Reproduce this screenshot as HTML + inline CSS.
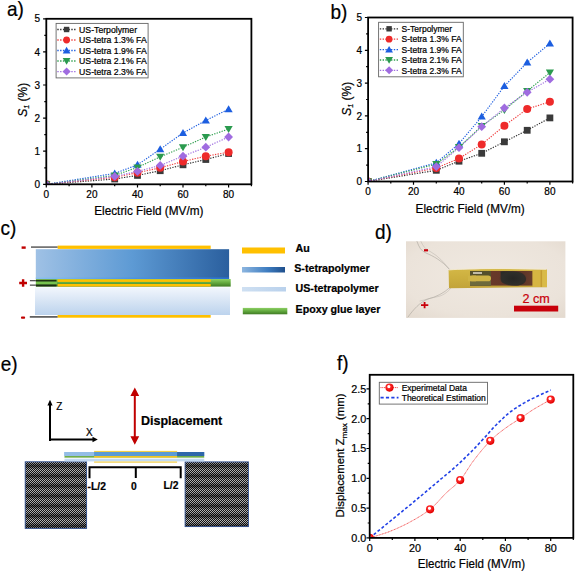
<!DOCTYPE html>
<html><head><meta charset="utf-8"><style>
html,body{margin:0;padding:0;background:#fff;}
svg{display:block;}
text{font-family:"Liberation Sans",sans-serif;stroke:currentColor;stroke-width:0.22px;}
</style></head><body>
<svg width="575" height="572" viewBox="0 0 575 572">
<rect width="575" height="572" fill="#fff"/>

<g font-size="20" font-family="Liberation Sans" style="stroke-width:0">
<text transform="translate(6.9,16) scale(0.95,1)">a)</text>
<text transform="translate(330.5,18.8) scale(0.95,1)">b)</text>
<text transform="translate(0.4,235) scale(0.95,1)">c)</text>
<text transform="translate(374.9,238.9) scale(0.95,1)">d)</text>
<text transform="translate(0.8,370.5) scale(0.95,1)">e)</text>
<text transform="translate(337,370.2) scale(0.95,1)">f)</text>
</g>

<g id="pa"><clipPath id="clip46"><rect x="46.3" y="18.8" width="205.1" height="165.5"/></clipPath>
<g clip-path="url(#clip46)">
<path d="M46.3,184.3 L114.7,179.0 L137.5,175.4 L160.2,170.7 L183.0,164.8 L205.8,159.5 L228.6,153.5" fill="none" stroke="#333" stroke-width="1.15" stroke-dasharray="1.3,1.3"/>
<path d="M46.3,184.3 L114.7,177.3 L137.5,172.7 L160.2,167.8 L183.0,161.5 L205.8,156.2 L228.6,152.2" fill="none" stroke="#f04040" stroke-width="1.15" stroke-dasharray="1.3,1.3"/>
<path d="M46.3,184.3 L114.7,173.4 L137.5,164.8 L160.2,149.2 L183.0,133.0 L205.8,120.4 L228.6,109.2" fill="none" stroke="#2060e0" stroke-width="1.15" stroke-dasharray="1.3,1.3"/>
<path d="M46.3,184.3 L114.7,175.4 L137.5,167.4 L160.2,156.8 L183.0,147.2 L205.8,137.0 L228.6,129.0" fill="none" stroke="#30a050" stroke-width="1.15" stroke-dasharray="1.3,1.3"/>
<path d="M46.3,184.3 L114.7,176.4 L137.5,171.4 L160.2,165.4 L183.0,156.2 L205.8,147.2 L228.6,137.0" fill="none" stroke="#a070e0" stroke-width="1.15" stroke-dasharray="1.3,1.3"/>
<rect x="42.9" y="180.9" width="6.8" height="6.8" fill="#3a3a3a"/>
<rect x="111.3" y="175.6" width="6.8" height="6.8" fill="#3a3a3a"/>
<rect x="134.1" y="172.0" width="6.8" height="6.8" fill="#3a3a3a"/>
<rect x="156.8" y="167.3" width="6.8" height="6.8" fill="#3a3a3a"/>
<rect x="179.6" y="161.4" width="6.8" height="6.8" fill="#3a3a3a"/>
<rect x="202.4" y="156.1" width="6.8" height="6.8" fill="#3a3a3a"/>
<rect x="225.2" y="150.1" width="6.8" height="6.8" fill="#3a3a3a"/>
<circle cx="46.3" cy="184.3" r="4.0" fill="#ee2a2a"/>
<circle cx="114.7" cy="177.3" r="4.0" fill="#ee2a2a"/>
<circle cx="137.5" cy="172.7" r="4.0" fill="#ee2a2a"/>
<circle cx="160.2" cy="167.8" r="4.0" fill="#ee2a2a"/>
<circle cx="183.0" cy="161.5" r="4.0" fill="#ee2a2a"/>
<circle cx="205.8" cy="156.2" r="4.0" fill="#ee2a2a"/>
<circle cx="228.6" cy="152.2" r="4.0" fill="#ee2a2a"/>
<path d="M46.3,180.3 L50.4,187.3 L42.2,187.3Z" fill="#1c5ee0"/>
<path d="M114.7,169.4 L118.8,176.4 L110.6,176.4Z" fill="#1c5ee0"/>
<path d="M137.5,160.8 L141.6,167.8 L133.4,167.8Z" fill="#1c5ee0"/>
<path d="M160.2,145.2 L164.3,152.2 L156.1,152.2Z" fill="#1c5ee0"/>
<path d="M183.0,129.0 L187.1,136.0 L178.9,136.0Z" fill="#1c5ee0"/>
<path d="M205.8,116.4 L209.9,123.4 L201.7,123.4Z" fill="#1c5ee0"/>
<path d="M228.6,105.2 L232.7,112.2 L224.5,112.2Z" fill="#1c5ee0"/>
<path d="M46.3,188.3 L50.4,181.3 L42.2,181.3Z" fill="#2a9a4e"/>
<path d="M114.7,179.4 L118.8,172.4 L110.6,172.4Z" fill="#2a9a4e"/>
<path d="M137.5,171.4 L141.6,164.4 L133.4,164.4Z" fill="#2a9a4e"/>
<path d="M160.2,160.8 L164.3,153.8 L156.1,153.8Z" fill="#2a9a4e"/>
<path d="M183.0,151.2 L187.1,144.2 L178.9,144.2Z" fill="#2a9a4e"/>
<path d="M205.8,141.0 L209.9,134.0 L201.7,134.0Z" fill="#2a9a4e"/>
<path d="M228.6,133.0 L232.7,126.0 L224.5,126.0Z" fill="#2a9a4e"/>
<path d="M46.3,179.9 L50.7,184.3 L46.3,188.7 L41.9,184.3Z" fill="#a06ce0"/>
<path d="M114.7,172.0 L119.1,176.4 L114.7,180.8 L110.3,176.4Z" fill="#a06ce0"/>
<path d="M137.5,167.0 L141.9,171.4 L137.5,175.8 L133.1,171.4Z" fill="#a06ce0"/>
<path d="M160.2,161.0 L164.6,165.4 L160.2,169.8 L155.8,165.4Z" fill="#a06ce0"/>
<path d="M183.0,151.8 L187.4,156.2 L183.0,160.6 L178.6,156.2Z" fill="#a06ce0"/>
<path d="M205.8,142.8 L210.2,147.2 L205.8,151.6 L201.4,147.2Z" fill="#a06ce0"/>
<path d="M228.6,132.6 L233.0,137.0 L228.6,141.4 L224.2,137.0Z" fill="#a06ce0"/>
</g>
<rect x="46.3" y="18.8" width="205.1" height="165.5" fill="none" stroke="#000" stroke-width="1.8"/>
<path d="M46.3,184.3 v3.2 M69.1,184.3 v2.0 M91.9,184.3 v3.2 M114.7,184.3 v2.0 M137.5,184.3 v3.2 M160.2,184.3 v2.0 M183.0,184.3 v3.2 M205.8,184.3 v2.0 M228.6,184.3 v3.2 M251.4,184.3 v2.0 M46.3,184.3 h-3.2 M46.3,167.8 h-2.0 M46.3,151.2 h-3.2 M46.3,134.7 h-2.0 M46.3,118.1 h-3.2 M46.3,101.6 h-2.0 M46.3,85.0 h-3.2 M46.3,68.5 h-2.0 M46.3,51.9 h-3.2 M46.3,35.3 h-2.0 M46.3,18.8 h-3.2" stroke="#000" stroke-width="1.2" fill="none"/>
<text x="46.3" y="197.5" font-size="10" text-anchor="middle" font-family="Liberation Sans">0</text>
<text x="91.9" y="197.5" font-size="10" text-anchor="middle" font-family="Liberation Sans">20</text>
<text x="137.5" y="197.5" font-size="10" text-anchor="middle" font-family="Liberation Sans">40</text>
<text x="183.0" y="197.5" font-size="10" text-anchor="middle" font-family="Liberation Sans">60</text>
<text x="228.6" y="197.5" font-size="10" text-anchor="middle" font-family="Liberation Sans">80</text>
<text x="40.1" y="187.9" font-size="10" text-anchor="end" font-family="Liberation Sans">0</text>
<text x="40.1" y="154.8" font-size="10" text-anchor="end" font-family="Liberation Sans">1</text>
<text x="40.1" y="121.7" font-size="10" text-anchor="end" font-family="Liberation Sans">2</text>
<text x="40.1" y="88.6" font-size="10" text-anchor="end" font-family="Liberation Sans">3</text>
<text x="40.1" y="55.5" font-size="10" text-anchor="end" font-family="Liberation Sans">4</text>
<text x="40.1" y="22.4" font-size="10" text-anchor="end" font-family="Liberation Sans">5</text>
<text transform="translate(148.8,215) scale(0.95,1)" font-size="12.4" text-anchor="middle" font-family="Liberation Sans">Electric Field (MV/m)</text>
<text transform="translate(27.3,99.8) rotate(-90)" font-size="12" text-anchor="middle" font-family="Liberation Sans"><tspan font-style="italic">S</tspan><tspan font-size="7" dy="2" font-style="italic">1</tspan><tspan dy="-2"> (%)</tspan></text>
<rect x="56.1" y="23.4" width="92.0" height="54.5" fill="#fff" stroke="#666" stroke-width="0.9"/>
<path d="M57.300000000000004,29.5 H76.1" stroke="#333" stroke-width="1.3" stroke-dasharray="1.4,1.4"/>
<rect x="63.9" y="26.8" width="5.4" height="5.4" fill="#3a3a3a"/>
<text x="79.1" y="32.7" font-size="8.7" font-family="Liberation Sans">US-Terpolymer</text>
<path d="M57.300000000000004,40.0 H76.1" stroke="#f04040" stroke-width="1.3" stroke-dasharray="1.4,1.4"/>
<circle cx="66.6" cy="40.0" r="3.4" fill="#ee2a2a"/>
<text x="79.1" y="43.2" font-size="8.7" font-family="Liberation Sans">US-tetra 1.3% FA</text>
<path d="M57.300000000000004,50.5 H76.1" stroke="#2060e0" stroke-width="1.3" stroke-dasharray="1.4,1.4"/>
<path d="M66.6,46.7 L70.5,53.4 L62.7,53.4Z" fill="#1c5ee0"/>
<text x="79.1" y="53.7" font-size="8.7" font-family="Liberation Sans">US-tetra 1.9% FA</text>
<path d="M57.300000000000004,61.0 H76.1" stroke="#30a050" stroke-width="1.3" stroke-dasharray="1.4,1.4"/>
<path d="M66.6,64.8 L70.5,58.1 L62.7,58.1Z" fill="#2a9a4e"/>
<text x="79.1" y="64.2" font-size="8.7" font-family="Liberation Sans">US-tetra 2.1% FA</text>
<path d="M57.300000000000004,71.6 H76.1" stroke="#a070e0" stroke-width="1.3" stroke-dasharray="1.4,1.4"/>
<path d="M66.6,67.6 L70.6,71.6 L66.6,75.6 L62.6,71.6Z" fill="#a06ce0"/>
<text x="79.1" y="74.8" font-size="8.7" font-family="Liberation Sans">US-tetra 2.3% FA</text></g>
<g id="pb"><clipPath id="clip368"><rect x="368.1" y="17.5" width="204.5" height="164.0"/></clipPath>
<g clip-path="url(#clip368)">
<path d="M368.1,181.5 L436.3,170.3 L459.0,161.2 L481.7,153.3 L504.4,141.8 L527.2,130.3 L549.9,117.9" fill="none" stroke="#333" stroke-width="1.15" stroke-dasharray="1.3,1.3"/>
<path d="M368.1,181.5 L436.3,168.1 L459.0,158.5 L481.7,144.4 L504.4,125.7 L527.2,109.0 L549.9,101.8" fill="none" stroke="#f04040" stroke-width="1.15" stroke-dasharray="1.3,1.3"/>
<path d="M368.1,181.5 L436.3,162.8 L459.0,143.8 L481.7,116.6 L504.4,86.1 L527.2,62.4 L549.9,43.4" fill="none" stroke="#2060e0" stroke-width="1.15" stroke-dasharray="1.3,1.3"/>
<path d="M368.1,181.5 L436.3,164.1 L459.0,147.1 L481.7,126.1 L504.4,110.0 L527.2,91.0 L549.9,72.6" fill="none" stroke="#30a050" stroke-width="1.15" stroke-dasharray="1.3,1.3"/>
<path d="M368.1,181.5 L436.3,166.7 L459.0,147.7 L481.7,126.7 L504.4,108.0 L527.2,92.3 L549.9,79.2" fill="none" stroke="#a070e0" stroke-width="1.15" stroke-dasharray="1.3,1.3"/>
<rect x="364.7" y="178.1" width="6.8" height="6.8" fill="#3a3a3a"/>
<rect x="432.9" y="166.9" width="6.8" height="6.8" fill="#3a3a3a"/>
<rect x="455.6" y="157.8" width="6.8" height="6.8" fill="#3a3a3a"/>
<rect x="478.3" y="149.9" width="6.8" height="6.8" fill="#3a3a3a"/>
<rect x="501.0" y="138.4" width="6.8" height="6.8" fill="#3a3a3a"/>
<rect x="523.8" y="126.9" width="6.8" height="6.8" fill="#3a3a3a"/>
<rect x="546.5" y="114.5" width="6.8" height="6.8" fill="#3a3a3a"/>
<circle cx="368.1" cy="181.5" r="4.0" fill="#ee2a2a"/>
<circle cx="436.3" cy="168.1" r="4.0" fill="#ee2a2a"/>
<circle cx="459.0" cy="158.5" r="4.0" fill="#ee2a2a"/>
<circle cx="481.7" cy="144.4" r="4.0" fill="#ee2a2a"/>
<circle cx="504.4" cy="125.7" r="4.0" fill="#ee2a2a"/>
<circle cx="527.2" cy="109.0" r="4.0" fill="#ee2a2a"/>
<circle cx="549.9" cy="101.8" r="4.0" fill="#ee2a2a"/>
<path d="M368.1,177.5 L372.2,184.5 L364.0,184.5Z" fill="#1c5ee0"/>
<path d="M436.3,158.8 L440.4,165.8 L432.2,165.8Z" fill="#1c5ee0"/>
<path d="M459.0,139.8 L463.1,146.8 L454.9,146.8Z" fill="#1c5ee0"/>
<path d="M481.7,112.6 L485.8,119.6 L477.6,119.6Z" fill="#1c5ee0"/>
<path d="M504.4,82.1 L508.5,89.1 L500.3,89.1Z" fill="#1c5ee0"/>
<path d="M527.2,58.4 L531.3,65.4 L523.1,65.4Z" fill="#1c5ee0"/>
<path d="M549.9,39.4 L554.0,46.4 L545.8,46.4Z" fill="#1c5ee0"/>
<path d="M368.1,185.5 L372.2,178.5 L364.0,178.5Z" fill="#2a9a4e"/>
<path d="M436.3,168.1 L440.4,161.1 L432.2,161.1Z" fill="#2a9a4e"/>
<path d="M459.0,151.1 L463.1,144.1 L454.9,144.1Z" fill="#2a9a4e"/>
<path d="M481.7,130.1 L485.8,123.1 L477.6,123.1Z" fill="#2a9a4e"/>
<path d="M504.4,114.0 L508.5,107.0 L500.3,107.0Z" fill="#2a9a4e"/>
<path d="M527.2,95.0 L531.3,88.0 L523.1,88.0Z" fill="#2a9a4e"/>
<path d="M549.9,76.6 L554.0,69.6 L545.8,69.6Z" fill="#2a9a4e"/>
<path d="M368.1,177.1 L372.5,181.5 L368.1,185.9 L363.7,181.5Z" fill="#a06ce0"/>
<path d="M436.3,162.3 L440.7,166.7 L436.3,171.1 L431.9,166.7Z" fill="#a06ce0"/>
<path d="M459.0,143.3 L463.4,147.7 L459.0,152.1 L454.6,147.7Z" fill="#a06ce0"/>
<path d="M481.7,122.3 L486.1,126.7 L481.7,131.1 L477.3,126.7Z" fill="#a06ce0"/>
<path d="M504.4,103.6 L508.8,108.0 L504.4,112.4 L500.0,108.0Z" fill="#a06ce0"/>
<path d="M527.2,87.9 L531.6,92.3 L527.2,96.7 L522.8,92.3Z" fill="#a06ce0"/>
<path d="M549.9,74.8 L554.3,79.2 L549.9,83.6 L545.5,79.2Z" fill="#a06ce0"/>
</g>
<rect x="368.1" y="17.5" width="204.5" height="164.0" fill="none" stroke="#000" stroke-width="1.8"/>
<path d="M368.1,181.5 v3.2 M390.8,181.5 v2.0 M413.5,181.5 v3.2 M436.3,181.5 v2.0 M459.0,181.5 v3.2 M481.7,181.5 v2.0 M504.4,181.5 v3.2 M527.2,181.5 v2.0 M549.9,181.5 v3.2 M572.6,181.5 v2.0 M368.1,181.5 h-3.2 M368.1,165.1 h-2.0 M368.1,148.7 h-3.2 M368.1,132.3 h-2.0 M368.1,115.9 h-3.2 M368.1,99.5 h-2.0 M368.1,83.1 h-3.2 M368.1,66.7 h-2.0 M368.1,50.3 h-3.2 M368.1,33.9 h-2.0 M368.1,17.5 h-3.2" stroke="#000" stroke-width="1.2" fill="none"/>
<text x="368.1" y="194.8" font-size="10" text-anchor="middle" font-family="Liberation Sans">0</text>
<text x="413.5" y="194.8" font-size="10" text-anchor="middle" font-family="Liberation Sans">20</text>
<text x="459.0" y="194.8" font-size="10" text-anchor="middle" font-family="Liberation Sans">40</text>
<text x="504.4" y="194.8" font-size="10" text-anchor="middle" font-family="Liberation Sans">60</text>
<text x="549.9" y="194.8" font-size="10" text-anchor="middle" font-family="Liberation Sans">80</text>
<text x="362.0" y="185.1" font-size="10" text-anchor="end" font-family="Liberation Sans">0</text>
<text x="362.0" y="152.3" font-size="10" text-anchor="end" font-family="Liberation Sans">1</text>
<text x="362.0" y="119.5" font-size="10" text-anchor="end" font-family="Liberation Sans">2</text>
<text x="362.0" y="86.7" font-size="10" text-anchor="end" font-family="Liberation Sans">3</text>
<text x="362.0" y="53.9" font-size="10" text-anchor="end" font-family="Liberation Sans">4</text>
<text x="362.0" y="21.1" font-size="10" text-anchor="end" font-family="Liberation Sans">5</text>
<text transform="translate(470.2,212.8) scale(0.95,1)" font-size="12.4" text-anchor="middle" font-family="Liberation Sans">Electric Field (MV/m)</text>
<text transform="translate(350.8,98.8) rotate(-90)" font-size="12" text-anchor="middle" font-family="Liberation Sans"><tspan font-style="italic">S</tspan><tspan font-size="7" dy="2" font-style="italic">1</tspan><tspan dy="-2"> (%)</tspan></text>
<rect x="378.6" y="22.3" width="84.7" height="54.5" fill="#fff" stroke="#666" stroke-width="0.9"/>
<path d="M379.8,28.8 H398.6" stroke="#333" stroke-width="1.3" stroke-dasharray="1.4,1.4"/>
<rect x="386.4" y="26.1" width="5.4" height="5.4" fill="#3a3a3a"/>
<text x="401.6" y="32.0" font-size="8.5" font-family="Liberation Sans">S-Terpolymer</text>
<path d="M379.8,39.2 H398.6" stroke="#f04040" stroke-width="1.3" stroke-dasharray="1.4,1.4"/>
<circle cx="389.1" cy="39.2" r="3.4" fill="#ee2a2a"/>
<text x="401.6" y="42.4" font-size="8.5" font-family="Liberation Sans">S-tetra 1.3% FA</text>
<path d="M379.8,49.7 H398.6" stroke="#2060e0" stroke-width="1.3" stroke-dasharray="1.4,1.4"/>
<path d="M389.1,45.9 L393.0,52.6 L385.2,52.6Z" fill="#1c5ee0"/>
<text x="401.6" y="52.9" font-size="8.5" font-family="Liberation Sans">S-tetra 1.9% FA</text>
<path d="M379.8,60.0 H398.6" stroke="#30a050" stroke-width="1.3" stroke-dasharray="1.4,1.4"/>
<path d="M389.1,63.8 L393.0,57.1 L385.2,57.1Z" fill="#2a9a4e"/>
<text x="401.6" y="63.2" font-size="8.5" font-family="Liberation Sans">S-tetra 2.1% FA</text>
<path d="M379.8,70.3 H398.6" stroke="#a070e0" stroke-width="1.3" stroke-dasharray="1.4,1.4"/>
<path d="M389.1,66.3 L393.1,70.3 L389.1,74.3 L385.1,70.3Z" fill="#a06ce0"/>
<text x="401.6" y="73.5" font-size="8.5" font-family="Liberation Sans">S-tetra 2.3% FA</text></g>
<g id="pc">
<defs>
 <linearGradient id="gS" x1="0" x2="1" y1="0" y2="0">
  <stop offset="0" stop-color="#9fc1e5"/><stop offset="0.5" stop-color="#5d9ad4"/><stop offset="1" stop-color="#2a5f9e"/>
 </linearGradient>
 <linearGradient id="gSb" x1="0" x2="1" y1="0" y2="0">
  <stop offset="0" stop-color="#8cc0f0"/><stop offset="0.5" stop-color="#4a94e4"/><stop offset="1" stop-color="#2a70d0"/>
 </linearGradient>
 <linearGradient id="gU" x1="0" x2="0" y1="0" y2="1">
  <stop offset="0" stop-color="#f2f6fc"/><stop offset="1" stop-color="#bcd3ed"/>
 </linearGradient>
 <linearGradient id="gSl" x1="0" x2="1" y1="0" y2="0">
  <stop offset="0" stop-color="#8db6e0"/><stop offset="0.6" stop-color="#3d7cc0"/><stop offset="1" stop-color="#1f4f8c"/>
 </linearGradient>
 <linearGradient id="gUl" x1="0" x2="1" y1="0" y2="0">
  <stop offset="0" stop-color="#cfe0f2"/><stop offset="1" stop-color="#b9d1ec"/>
 </linearGradient>
 <linearGradient id="gG" x1="0" x2="0" y1="0" y2="1">
  <stop offset="0" stop-color="#8ccf64"/><stop offset="0.5" stop-color="#62a93e"/><stop offset="1" stop-color="#3f7a24"/>
 </linearGradient>
</defs>
<rect x="35.8" y="249.2" width="193.3" height="29.6" fill="url(#gS)"/>
<rect x="35.8" y="277.5" width="193.3" height="1.5" fill="url(#gSb)"/>
<rect x="35.0" y="287.4" width="195.0" height="27.6" fill="url(#gU)"/>
<rect x="35.9" y="279.0" width="194.8" height="7.6" fill="url(#gG)"/>
<rect x="57.6" y="279.4" width="153.1" height="2.5" fill="#ffc000"/>
<rect x="57.6" y="284.0" width="153.1" height="2.5" fill="#ffc000"/>
<rect x="57.6" y="245.6" width="153.1" height="3.3" fill="#ffc000"/>
<rect x="57.6" y="315.0" width="153.1" height="2.7" fill="#ffc000"/>
<rect x="35.9" y="281.4" width="21" height="3.1" fill="#76c24e"/>
<rect x="35.9" y="279.8" width="20.6" height="1.7" fill="#1e3214"/>
<rect x="35.9" y="284.5" width="20.6" height="1.9" fill="#1a2c12"/>
<rect x="29.9" y="280.0" width="6" height="1.3" fill="#555"/>
<rect x="29.9" y="284.5" width="6" height="1.3" fill="#555"/>
<rect x="31.0" y="246.3" width="26.6" height="1.6" fill="#666"/>
<rect x="29.8" y="316.1" width="27.8" height="1.6" fill="#505050"/>
<rect x="21.6" y="246.4" width="4.1" height="2.4" fill="#c00000"/>
<rect x="21.0" y="316.4" width="4.1" height="2.3" rx="0.8" fill="#c00000"/>
<path d="M23.1,279.2 V286.7 M19.2,283 H27" stroke="#c00000" stroke-width="2.4"/>
<rect x="242" y="247.5" width="43" height="6" fill="#ffc000"/>
<rect x="242" y="267.0" width="43" height="5.5" fill="url(#gSl)"/>
<rect x="242" y="287.0" width="44" height="4.5" fill="url(#gUl)"/>
<rect x="242.8" y="307.9" width="44.5" height="6.4" fill="url(#gG)"/>
<g font-size="10.7" font-weight="bold" font-family="Liberation Sans">
<text x="295.5" y="252.4">Au</text>
<text x="294.2" y="271.7">S-tetrapolymer</text>
<text x="295.5" y="292">US-tetrapolymer</text>
<text x="295.5" y="313">Epoxy glue layer</text>
</g>
</g>
<g id="pd">
<defs>
 <radialGradient id="gBg" cx="0.5" cy="0.45" r="0.75">
  <stop offset="0" stop-color="#f0e9e1"/><stop offset="0.7" stop-color="#ebe3da"/><stop offset="1" stop-color="#e3d9ce"/>
 </radialGradient>
 <linearGradient id="gDev" x1="0" x2="0" y1="0" y2="1">
  <stop offset="0" stop-color="#d3b746"/><stop offset="0.5" stop-color="#cbae3e"/><stop offset="1" stop-color="#c2a33a"/>
 </linearGradient>
 <linearGradient id="gIn" x1="0" x2="1" y1="0" y2="0">
  <stop offset="0" stop-color="#74402c"/><stop offset="0.25" stop-color="#6a3a2a"/><stop offset="0.85" stop-color="#5e3628"/><stop offset="1" stop-color="#6a3e2c"/>
 </linearGradient>
 <radialGradient id="gBlot" cx="0.5" cy="0.5" r="0.5">
  <stop offset="0" stop-color="#262624"/><stop offset="0.7" stop-color="#2e2e2a"/><stop offset="1" stop-color="#3a3029" stop-opacity="0"/>
 </radialGradient>
</defs>
<rect x="406" y="241.3" width="159.4" height="76.6" fill="url(#gBg)"/>
<g fill="none" stroke-linecap="round">
<path d="M417,241.5 C419,247 421,251 426,253 C433,256 441,260 449.5,269.3" stroke="#a9a49c" stroke-width="0.6"/>
<path d="M421,241.5 C423,246 425,249 431,252 C438,256 444,262 449.5,269.6" stroke="#b8b3ab" stroke-width="0.5"/>
<path d="M449.5,287.8 C444,293 436,297 428,299 C420,302 413,310 408,317" stroke="#a9a49c" stroke-width="0.6"/>
<path d="M451,288 C447,293 442,296 436,297 C430,298 425,300 420,301" stroke="#b8b3ab" stroke-width="0.5"/>
</g>
<path d="M448.6,270 C470,268.6 510,268.8 547,269.6 L547,287.2 L532,287.2 L449,288.3 Z" fill="url(#gDev)"/>
<path d="M449,269.9 C470,268.2 510,268.3 546,269.2" stroke="#f3ead0" stroke-width="0.9" fill="none"/>
<rect x="470" y="271" width="62.6" height="14.6" fill="url(#gIn)"/>
<rect x="470" y="271" width="21" height="14.6" fill="#55502c"/>
<rect x="470" y="281" width="21" height="4.6" fill="#6d6a3c"/>
<path d="M500.5,271.5 C506,271 512,271.2 518,272 C523,273 526,276 526,279 C526,283 522,285.5 516,285.5 C511,285.5 507,285 503,283 C500,281 501,277 500.5,271.5 Z" fill="#2b2b28"/>
<ellipse cx="513" cy="278.4" rx="14" ry="8" fill="url(#gBlot)"/>
<rect x="470" y="275.6" width="21" height="5.7" rx="2.85" fill="#cfb446"/>
<rect x="468" y="275.6" width="8" height="5.7" fill="#cfb446"/>
<rect x="473" y="272.2" width="9" height="1.6" fill="#ddd6c4"/>
<rect x="532.6" y="270.2" width="14.4" height="16.8" fill="#d6b542"/>
<rect x="540.6" y="270.2" width="1.6" height="16.8" fill="#c49c32"/>
<rect x="542.2" y="270.2" width="4.8" height="16.8" fill="#d9ba48"/>
<rect x="424" y="249.2" width="4" height="2.2" fill="#c8000a"/>
<path d="M424.6,302 V308.2 M421,305.1 H428.3" stroke="#c8000a" stroke-width="1.8"/>
<text x="522.4" y="302.7" font-size="12.6" fill="#c8000a" style="stroke:#c8000a" font-family="Liberation Sans">2 cm</text>
<rect x="514" y="305.7" width="44.2" height="5.8" fill="#c8000a"/>
</g>
<g id="pe">
<defs>
 <pattern id="chk" width="2" height="2" patternUnits="userSpaceOnUse">
  <rect width="2" height="2" fill="#111"/>
  <rect width="1" height="1" fill="#b8b8b8"/>
  <rect x="1" y="1" width="1" height="1" fill="#b8b8b8"/>
 </pattern>
 <linearGradient id="bandg" x1="0" x2="0" y1="0" y2="1">
  <stop offset="0" stop-color="#000" stop-opacity="0"/>
  <stop offset="0.25" stop-color="#000" stop-opacity="0.05"/>
  <stop offset="0.6" stop-color="#000" stop-opacity="0.6"/>
  <stop offset="0.9" stop-color="#000" stop-opacity="0.1"/>
  <stop offset="1" stop-color="#000" stop-opacity="0"/>
 </linearGradient>
 <pattern id="band" width="4" height="10" patternUnits="userSpaceOnUse">
  <rect width="4" height="10" fill="url(#bandg)"/>
 </pattern>
</defs>
<rect x="25.2" y="461.8" width="61.4" height="66.6" fill="url(#chk)"/>
<rect x="25.2" y="461.8" width="61.4" height="66.6" fill="url(#band)" stroke="#2f4f8f" stroke-width="0.9"/>
<rect x="185.1" y="461.9" width="63.3" height="64.7" fill="url(#chk)"/>
<rect x="185.1" y="461.9" width="63.3" height="64.7" fill="url(#band)" stroke="#2f4f8f" stroke-width="0.9"/>
<rect x="64.5" y="452" width="139.7" height="4" fill="#5b9bd5"/>
<rect x="64.5" y="452" width="29.6" height="4" fill="#93bde6"/>
<rect x="177.1" y="452" width="27.1" height="4" fill="#2e67aa"/>
<rect x="64.5" y="456" width="139.7" height="1.8" fill="#70ad47"/>
<rect x="94.1" y="456" width="83" height="1.8" fill="#f2c520"/>
<rect x="64.5" y="457.8" width="139.7" height="1.2" fill="#eef4fb"/>
<rect x="64.5" y="459" width="139.7" height="2.4" fill="#c2daf2"/>
<rect x="94.1" y="450.9" width="83" height="1.1" fill="#f4cf48"/>
<rect x="94.1" y="461.5" width="83" height="1.2" fill="#f4cf48"/>
<path d="M50,441 V405 M49,439.5 H94" stroke="#000" stroke-width="2"/>
<path d="M50,399.7 L52.6,405.5 L47.4,405.5Z M97.8,439.5 L92.5,436.8 L92.5,442.2Z" fill="#000"/>
<text x="56.2" y="409.5" font-size="10" font-family="Liberation Sans">Z</text>
<text x="86.1" y="436.1" font-size="10" font-family="Liberation Sans">X</text>
<path d="M134.8,394 V438" stroke="#c00000" stroke-width="2"/>
<path d="M134.8,387.6 L139.2,396.1 L130.4,396.1Z M134.8,444.8 L139.2,436.3 L130.4,436.3Z" fill="#c00000"/>
<text x="141" y="424.6" font-size="12.5" font-weight="bold" font-family="Liberation Sans">Displacement</text>
<path d="M89.5,478.3 V467.3 H180.7 V478.3 M135.8,467.3 V478" stroke="#000" stroke-width="2" fill="none"/>
<g font-size="10.3" font-weight="bold" font-family="Liberation Sans">
<text x="87.6" y="489.6">-L/2</text>
<text x="131" y="489.6">0</text>
<text x="163.5" y="489.4">L/2</text>
</g>
</g>
<g id="pf"><clipPath id="clipf"><rect x="369.7" y="374.8" width="203.6" height="163.1"/></clipPath><g clip-path="url(#clipf)">
<path d="M369.7,537.9 L371.3,537.4 L373.4,536.8 L375.8,536.1 L378.6,535.2 L381.5,534.3 L384.5,533.3 L387.4,532.4 L390.1,531.3 L392.6,530.3 L395.2,529.2 L397.7,528.1 L400.3,526.9 L402.8,525.7 L405.4,524.5 L407.9,523.2 L410.4,521.8 L412.9,520.4 L415.5,519.0 L418.0,517.5 L420.5,516.0 L423.0,514.4 L425.5,512.7 L427.8,511.0 L430.1,509.3 L432.3,507.4 L434.4,505.5 L436.4,503.4 L438.4,501.3 L440.3,499.2 L442.2,497.1 L444.1,495.1 L445.9,493.2 L447.8,491.5 L449.6,489.9 L451.4,488.4 L453.2,486.9 L455.0,485.4 L456.7,483.8 L458.5,482.0 L460.2,480.1 L461.9,477.9 L463.6,475.6 L465.2,473.2 L466.8,470.7 L468.5,468.1 L470.2,465.5 L471.9,462.9 L473.8,460.4 L475.7,457.9 L477.7,455.3 L479.8,452.7 L481.9,450.1 L484.1,447.6 L486.2,445.2 L488.3,442.9 L490.3,440.8 L492.2,438.8 L494.2,437.1 L496.1,435.4 L497.9,433.9 L499.8,432.4 L501.7,431.0 L503.5,429.6 L505.4,428.2 L507.3,426.9 L509.2,425.5 L511.2,424.2 L513.1,423.0 L515.0,421.8 L516.9,420.5 L518.7,419.3 L520.6,418.1 L522.4,416.9 L524.2,415.7 L525.9,414.5 L527.7,413.3 L529.4,412.1 L531.2,410.9 L533.0,409.7 L534.8,408.6 L536.9,407.4 L539.1,406.1 L541.4,404.8 L543.7,403.5 L545.8,402.3 L547.8,401.2 L549.4,400.3 L550.7,399.6" fill="none" stroke="#f03c3c" stroke-width="0.9" stroke-dasharray="1,0.6"/>
<path d="M369.7,537.9 L370.8,537.0 L372.2,535.9 L373.8,534.6 L375.6,533.1 L377.5,531.5 L379.6,529.8 L381.8,528.1 L383.9,526.3 L386.1,524.5 L388.3,522.7 L390.4,521.0 L392.3,519.4 L394.2,517.9 L396.1,516.4 L398.0,514.8 L399.9,513.3 L401.7,511.8 L403.6,510.2 L405.5,508.7 L407.4,507.2 L409.3,505.6 L411.2,504.1 L413.1,502.5 L414.9,500.9 L416.8,499.4 L418.8,497.7 L420.7,496.1 L422.7,494.5 L424.7,492.8 L426.6,491.2 L428.5,489.5 L430.4,487.9 L432.3,486.3 L434.1,484.8 L435.9,483.3 L437.6,481.9 L439.2,480.5 L440.7,479.2 L442.2,478.0 L443.6,476.8 L445.0,475.7 L446.4,474.5 L447.8,473.4 L449.1,472.3 L450.4,471.2 L451.8,470.0 L453.1,468.8 L454.5,467.6 L456.0,466.3 L457.4,465.0 L458.9,463.6 L460.3,462.3 L461.8,460.9 L463.3,459.5 L464.7,458.1 L466.1,456.7 L467.5,455.4 L468.9,454.0 L470.2,452.7 L471.5,451.5 L472.7,450.3 L473.9,449.1 L475.0,447.9 L476.1,446.7 L477.2,445.6 L478.3,444.4 L479.3,443.3 L480.3,442.2 L481.3,441.1 L482.3,440.0 L483.4,438.9 L484.4,437.8 L485.4,436.7 L486.4,435.6 L487.4,434.5 L488.4,433.4 L489.3,432.3 L490.3,431.2 L491.3,430.1 L492.2,429.0 L493.2,427.9 L494.3,426.8 L495.3,425.8 L496.4,424.7 L497.5,423.6 L498.6,422.4 L499.8,421.3 L500.9,420.2 L502.1,419.1 L503.3,418.0 L504.5,416.8 L505.7,415.7 L507.0,414.7 L508.3,413.6 L509.6,412.6 L510.9,411.5 L512.2,410.6 L513.5,409.6 L514.8,408.7 L516.2,407.8 L517.6,406.9 L519.0,406.0 L520.4,405.2 L521.8,404.3 L523.3,403.4 L524.8,402.6 L526.4,401.7 L528.1,400.8 L529.8,399.9 L531.8,398.9 L533.9,397.9 L536.0,396.8 L538.2,395.8 L540.4,394.8 L542.6,393.8 L544.6,392.9 L546.5,392.0 L548.2,391.3 L549.6,390.6 L550.7,390.1" fill="none" stroke="#1f3fe6" stroke-width="1.6" stroke-dasharray="3,2.1"/>
<defs><radialGradient id="ball" cx="0.42" cy="0.38" r="0.6"><stop offset="0" stop-color="#fff"/><stop offset="0.22" stop-color="#fff"/><stop offset="0.4" stop-color="#ff2a2a"/><stop offset="1" stop-color="#e00000"/></radialGradient></defs>
<circle cx="369.7" cy="537.9" r="4.1" fill="url(#ball)"/>
<circle cx="430.1" cy="509.3" r="4.1" fill="url(#ball)"/>
<circle cx="460.2" cy="480.1" r="4.1" fill="url(#ball)"/>
<circle cx="490.3" cy="440.8" r="4.1" fill="url(#ball)"/>
<circle cx="520.6" cy="418.1" r="4.1" fill="url(#ball)"/>
<circle cx="550.7" cy="399.6" r="4.1" fill="url(#ball)"/>
</g>
<rect x="369.7" y="374.8" width="203.6" height="163.1" fill="none" stroke="#000" stroke-width="1.8"/>
<path d="M369.7,537.9 v3.2 M392.3,537.9 v2.0 M414.9,537.9 v3.2 M437.6,537.9 v2.0 M460.2,537.9 v3.2 M482.8,537.9 v2.0 M505.4,537.9 v3.2 M528.1,537.9 v2.0 M550.7,537.9 v3.2 M573.3,537.9 v2.0 M369.7,537.9 h-3.2 M369.7,523.0 h-2.0 M369.7,508.1 h-3.2 M369.7,493.2 h-2.0 M369.7,478.3 h-3.2 M369.7,463.4 h-2.0 M369.7,448.5 h-3.2 M369.7,433.6 h-2.0 M369.7,418.7 h-3.2 M369.7,403.8 h-2.0 M369.7,388.9 h-3.2" stroke="#000" stroke-width="1.2" fill="none"/>
<text x="369.7" y="551.7" font-size="10.8" text-anchor="middle" font-family="Liberation Sans">0</text>
<text x="414.9" y="551.7" font-size="10.8" text-anchor="middle" font-family="Liberation Sans">20</text>
<text x="460.2" y="551.7" font-size="10.8" text-anchor="middle" font-family="Liberation Sans">40</text>
<text x="505.4" y="551.7" font-size="10.8" text-anchor="middle" font-family="Liberation Sans">60</text>
<text x="550.7" y="551.7" font-size="10.8" text-anchor="middle" font-family="Liberation Sans">80</text>
<text x="366.2" y="541.8" font-size="10.8" text-anchor="end" font-family="Liberation Sans">0.0</text>
<text x="366.2" y="512.0" font-size="10.8" text-anchor="end" font-family="Liberation Sans">0.5</text>
<text x="366.2" y="482.2" font-size="10.8" text-anchor="end" font-family="Liberation Sans">1.0</text>
<text x="366.2" y="452.4" font-size="10.8" text-anchor="end" font-family="Liberation Sans">1.5</text>
<text x="366.2" y="422.6" font-size="10.8" text-anchor="end" font-family="Liberation Sans">2.0</text>
<text x="366.2" y="392.8" font-size="10.8" text-anchor="end" font-family="Liberation Sans">2.5</text>
<text transform="translate(471.4,568.3) scale(0.95,1)" font-size="12.2" text-anchor="middle" font-family="Liberation Sans">Electric Field (MV/m)</text>
<text transform="translate(344.3,455.5) rotate(-90)" font-size="11.4" text-anchor="middle" font-family="Liberation Sans">Displacement Z<tspan font-size="8" dy="2.5">max</tspan><tspan dy="-2.5"> (mm)</tspan></text>
<rect x="379.3" y="382.3" width="108.2" height="21.8" fill="#fff" stroke="#666" stroke-width="0.9"/>
<path d="M380.5,387.6 H398.5" stroke="#f03c3c" stroke-width="1" stroke-dasharray="1,0.8"/>
<circle cx="389.5" cy="387.6" r="4.1" fill="url(#ball)"/>
<path d="M380.5,397.6 H398.5" stroke="#1f3fe6" stroke-width="1.8" stroke-dasharray="3.2,2.2"/>
<text x="401.7" y="390.6" font-size="8.5" font-family="Liberation Sans">Experimetal Data</text>
<text x="401.7" y="400.6" font-size="8.5" font-family="Liberation Sans">Theoretical Estimation</text></g>
</svg>
</body></html>
